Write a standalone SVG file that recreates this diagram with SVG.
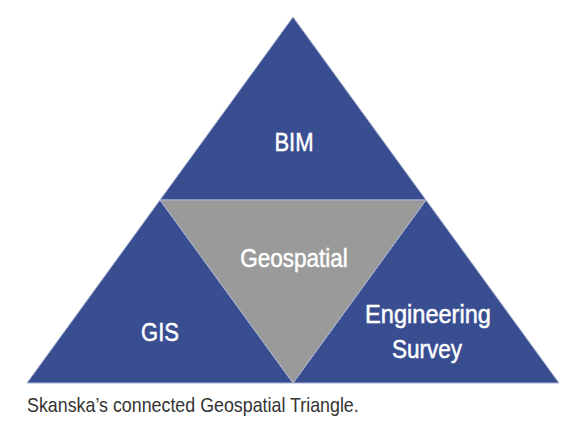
<svg xmlns="http://www.w3.org/2000/svg" width="588" height="422" viewBox="0 0 588 422">
<style>
.blue{fill:#394d91;stroke:#aab3d3;stroke-width:1}
.gray{fill:#9a9a9a;stroke:#aab3d3;stroke-width:1}
.lbl{font-family:"Liberation Sans",Arial,sans-serif;font-size:26.5px;fill:#ffffff;stroke:#ffffff;stroke-width:0.5;text-anchor:middle}
.cap{font-family:"Liberation Sans",Arial,sans-serif;font-size:21px;fill:#333333}
</style>
<rect width="588" height="422" fill="#ffffff"/>
<g id="bim"><polygon class="blue" points="293,17 426,200 160,200"/><text class="lbl" transform="translate(294,151) scale(0.83,1)">BIM</text></g>
<g id="gis"><polygon class="blue" points="160,200 293,383 27,383"/><text class="lbl" transform="translate(160,341) scale(0.83,1)">GIS</text></g>
<g id="survey"><polygon class="blue" points="426,200 559,383 293,383"/><text class="lbl" transform="translate(428,323) scale(0.89,1)">Engineering</text><text class="lbl" transform="translate(427,358) scale(0.85,1)">Survey</text></g>
<g id="geospatial"><polygon class="gray" points="160,200 426,200 293,383"/><text class="lbl" transform="translate(294,267) scale(0.85,1)">Geospatial</text></g>
<g id="connectors"></g>
<text class="cap" transform="translate(27,412) scale(0.85,1)">Skanska’s connected Geospatial Triangle.</text>
</svg>
